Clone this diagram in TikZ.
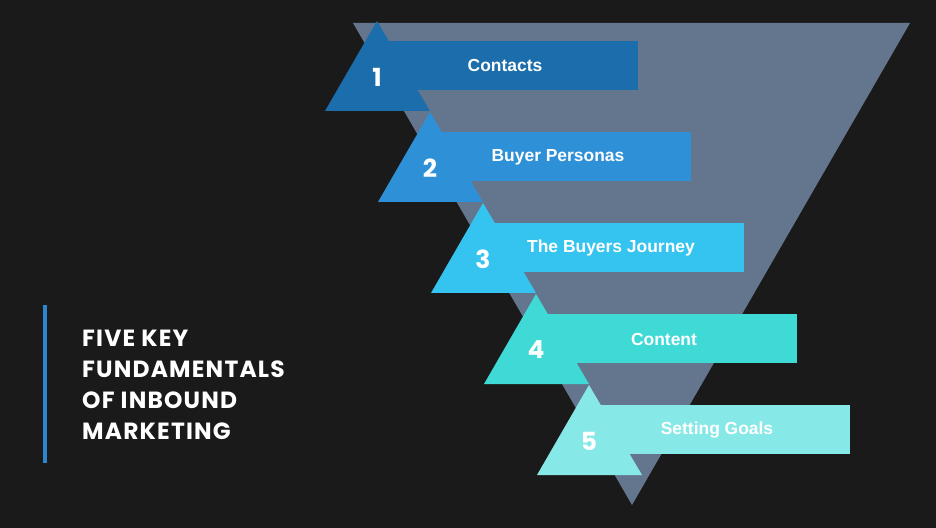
\documentclass[tikz,border=0pt]{standalone}
\usepackage{fontspec}
\setmainfont{Poppins}
\newfontfamily\labelfont{Liberation Sans}
\newfontfamily\titlefont{Poppins}[LetterSpace=5]

\definecolor{bgdark}{HTML}{1A1A1A}
\definecolor{funnelgray}{HTML}{64768E}
\definecolor{barblue}{HTML}{2E86D0}
\definecolor{stepA}{HTML}{1B6DAB}
\definecolor{stepB}{HTML}{2E91D7}
\definecolor{stepC}{HTML}{35C4EF}
\definecolor{stepD}{HTML}{3FDAD6}
\definecolor{stepE}{HTML}{87E9E7}

\tikzset{
  steplabel/.style={text=white,font=\labelfont\bfseries\fontsize{17.5}{20}\selectfont,inner sep=0pt},
  stepnum/.style={text=white,font=\bfseries\fontsize{25}{28}\selectfont,inner sep=0pt}
}

\begin{document}
\begin{tikzpicture}[x=1bp,y=-1bp]
    % Background
    \fill[bgdark] (0,0) rectangle (936,528);

    % Funnel
    \fill[funnelgray] (353,23) -- (910,23) -- (632,505) -- cycle;

    % Steps
    \foreach \i/\col/\txt in {1/stepA/Contacts,2/stepB/Buyer Personas,
        3/stepC/The Buyers Journey,4/stepD/Content,5/stepE/Setting Goals}{
        \pgfmathsetmacro{\ax}{377+53*(\i-1)}
        \pgfmathsetmacro{\ay}{21+91*(\i-1)}
        \fill[\col] (\ax,\ay) -- (\ax-52,\ay+90) -- (\ax+53,\ay+90) -- cycle;
        \fill[\col] (\ax,\ay+20) rectangle (\ax+261,\ay+69);
        \node[steplabel] (label\i) at (\ax+128,\ay+45) {\txt};
        \node[stepnum] (num\i) at (\ax,\ay+56) {\i};
    }

    % Title
    \fill[barblue] (43,305) rectangle (47,463);
    \node[anchor=north west,inner sep=0pt,align=left,text=white,
        font=\titlefont\bfseries\fontsize{23.5}{31}\selectfont] (title) at (82,330)
        {FIVE KEY\\FUNDAMENTALS\\OF INBOUND\\MARKETING};
\end{tikzpicture}
\end{document}
